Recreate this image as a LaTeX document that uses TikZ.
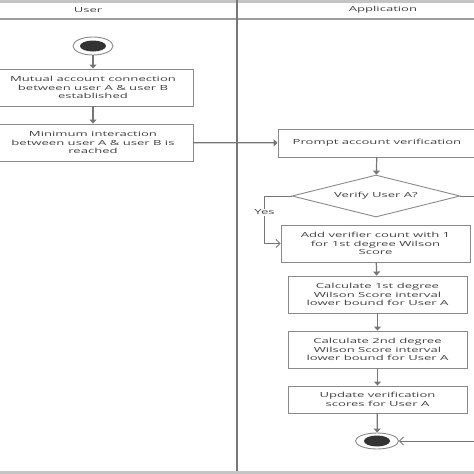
\documentclass[tikz,border=0pt]{standalone}
\usepackage{fontspec}
\setmainfont{Open Sans}[FakeStretch=1.87]
\usetikzlibrary{arrows.meta,shapes.geometric}
\definecolor{linegray}{HTML}{767676}
\definecolor{boxgray}{HTML}{8A8A8A}
\definecolor{lanegray}{HTML}{C4C4C4}
\definecolor{textgray}{HTML}{404040}
\definecolor{dotgray}{HTML}{333333}
\begin{document}
\begin{tikzpicture}[x=1pt, y=-1pt,
    font=\fontsize{7}{8.3}\selectfont, text=textgray,
    box/.style={draw=boxgray, line width=0.9pt, fill=white, align=center, inner sep=0pt},
    flow/.style={draw=linegray, line width=1.2pt, -{Triangle[length=4pt,width=7pt]}},
    openflow/.style={draw=linegray, line width=0.8pt, -{Straight Barb[length=4pt,width=8pt]}},
    ring/.style={ellipse, draw=boxgray, line width=0.9pt, fill=white, inner sep=0pt},
    dot/.style={ellipse, fill=dotgray, inner sep=0pt, minimum width=26pt, minimum height=11pt}]
    \clip (0,0) rectangle (474,474);
    % swimlanes
    \draw[lanegray, line width=3pt] (-10,1) -- (484,1);
    \draw[lanegray!80!black, line width=1.2pt] (-10,19) -- (484,19);
    \draw[lanegray, line width=3pt] (-10,472) -- (484,472);
    \draw[linegray, line width=1.8pt] (237,-5) -- (237,471);
    \node (userlane) at (88,10) {User};
    \node (applane) at (383,10) {Application};

    % user side
    \node[ring, minimum width=40pt, minimum height=18pt] (start) at (93,46) {};
    \node[dot] at (start) {};
    \node[box, minimum width=200pt, minimum height=37pt] (mutual) at (93,87.5)
        {Mutual account connection\\between user A \& user B\\established};
    \node[box, minimum width=200pt, minimum height=37pt] (mininter) at (93,142.5)
        {Minimum interaction\\between user A \& user B is\\reached};

    % application side
    \node[box, minimum width=198pt, minimum height=28pt] (prompt) at (377,143)
        {Prompt account verification};
    \node[diamond, aspect=4, draw=boxgray, line width=0.9pt, fill=white, inner sep=0pt,
        minimum width=168pt, minimum height=42pt] (verify) at (376,196) {Verify User A?};
    \node[box, minimum width=189pt, minimum height=37pt] (addcount) at (375.5,243.5)
        {Add verifier count with 1\\for 1st degree Wilson\\Score};
    \node[box, minimum width=179pt, minimum height=37pt] (calcone) at (377.5,294.5)
        {Calculate 1st degree\\Wilson Score interval\\lower bound for User A};
    \node[box, minimum width=179pt, minimum height=37pt] (calctwo) at (377.5,349.5)
        {Calculate 2nd degree\\Wilson Score interval\\lower bound for User A};
    \node[box, minimum width=179pt, minimum height=27pt] (update) at (377.5,399.5)
        {Update verification\\scores for User A};
    \node[ring, minimum width=43pt, minimum height=16pt] (finish) at (377,441) {};
    \node[dot] at (finish) {};
    \coordinate (noside) at (482,196);

    \draw[flow] (start) -- (mutual);
    \draw[flow] (mutual) -- (mininter);
    \draw[flow] (mininter) -- (prompt);
    \draw[flow] (prompt) -- (verify);
    \draw[openflow] (verify.west) -- ++(-27,0) |- node[pos=0.17, fill=white, inner sep=1pt] {Yes} (addcount.west);
    \draw[openflow] (verify.east) -- (noside) |- (finish.east);
    \draw[flow] (addcount) -- (calcone);
    \draw[flow] (calcone) -- (calctwo);
    \draw[flow] (calctwo) -- (update);
    \draw[flow] (update) -- (finish);
\end{tikzpicture}
\end{document}
